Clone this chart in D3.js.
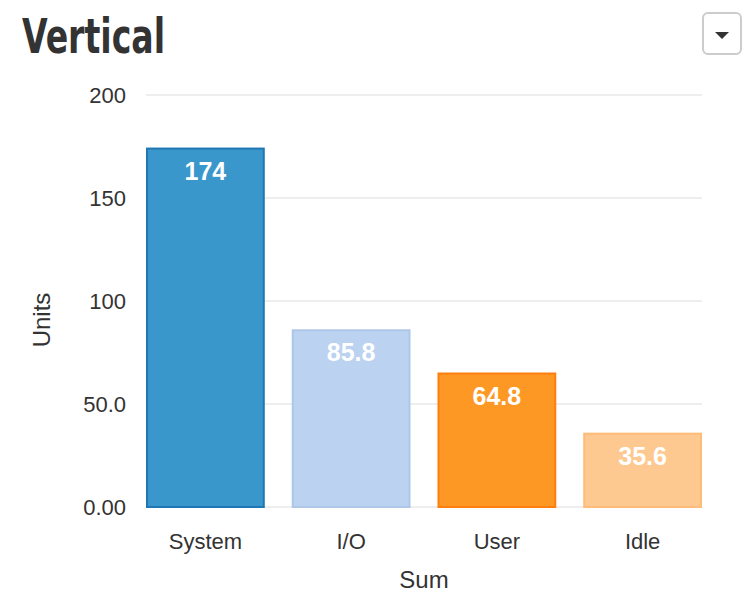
<!DOCTYPE html>
<html>
<head>
<meta charset="utf-8">
<script src="https://cdn.jsdelivr.net/npm/d3@7"></script>
<style>
  body { margin: 0; background: #fff; }
  svg { display: block; font-family: "Liberation Sans", Arial, Helvetica, sans-serif; }
</style>
</head>
<body>
<div id="chart"></div>
<script>
const categories = ["System", "I/O", "User", "Idle"];
const values = [174, 85.8, 64.8, 35.6];
const yTicks = [0, 50, 100, 150, 200];
const fills = ["#2e91c8", "#b7d0ef", "#fe9218", "#fec68a"];
const strokes = ["#1f77b4", "#aec7e8", "#ff7f0e", "#ffbb78"];

const width = 752, height = 608;
const margin = {top: 95, right: 50, bottom: 101, left: 146};

const svg = d3.select("#chart").append("svg")
    .attr("width", width)
    .attr("height", height);

// title
svg.append("text")
    .attr("x", 22)
    .attr("y", 53)
    .attr("fill", "#333")
    .style("font-family", "'Liberation Sans Narrow', 'DejaVu Sans Condensed', 'Liberation Sans', sans-serif")
    .style("font-weight", "bold")
    .style("font-size", "48px")
    .attr("textLength", 143)
    .attr("lengthAdjust", "spacingAndGlyphs")
    .text("Vertical");

// dropdown button
let btn = svg.append("g").attr("transform", "translate(703,13)");
btn.append("rect")
    .attr("width", 38).attr("height", 41)
    .attr("rx", 5)
    .attr("fill", "#fff")
    .attr("stroke", "#ccc")
    .attr("stroke-width", 2);
btn.append("path")
    .attr("d", "M12,19 L26,19 L19,26 Z")
    .attr("fill", "#333");

let x = d3.scaleBand()
    .domain(categories)
    .range([margin.left, width - margin.right])
    .paddingInner(0.185)
    .paddingOuter(0);

let y = d3.scaleLinear()
    .domain([0, 200])
    .range([height - margin.bottom, margin.top]);

let fill = d3.scaleOrdinal().domain(categories).range(fills);
let stroke = d3.scaleOrdinal().domain(categories).range(strokes);

// grid
svg.append("g")
    .selectAll("line")
    .data(yTicks)
    .enter().append("line")
    .attr("x1", margin.left)
    .attr("x2", width - margin.right)
    .attr("y1", d => y(d))
    .attr("y2", d => y(d))
    .attr("stroke", "#eee")
    .attr("stroke-width", 2);

// y axis
let yAxis = svg.append("g")
    .attr("transform", "translate(" + (margin.left - 20) + ",0)")
    .call(d3.axisLeft(y).tickValues(yTicks).tickFormat(d3.format(".3r")).tickSize(0).tickPadding(0));
yAxis.select(".domain").remove();
yAxis.selectAll("text")
    .attr("fill", "#333")
    .style("font-size", "22px");

// x axis
let xAxis = svg.append("g")
    .attr("transform", "translate(0," + (height - margin.bottom) + ")")
    .call(d3.axisBottom(x).tickSize(0).tickPadding(26));
xAxis.select(".domain").remove();
xAxis.selectAll("text")
    .attr("fill", "#333")
    .style("font-size", "22px");

// bars
let data = categories.map((c, i) => ({label: c, value: values[i]}));
svg.append("g").selectAll("rect")
    .data(data)
    .enter().append("rect")
    .attr("x", d => x(d.label) + 1)
    .attr("width", x.bandwidth() - 2)
    .attr("y", d => y(d.value))
    .attr("height", d => y(0) - y(d.value))
    .attr("fill", d => fill(d.label))
    .attr("fill-opacity", 0.95)
    .attr("stroke", d => stroke(d.label))
    .attr("stroke-width", 2);

// value labels
svg.append("g").selectAll("text")
    .data(data)
    .enter().append("text")
    .attr("x", d => x(d.label) + x.bandwidth() / 2)
    .attr("y", d => y(d.value) + 31)
    .attr("text-anchor", "middle")
    .attr("fill", "#fff")
    .style("font-weight", "bold")
    .style("font-size", "25px")
    .text(d => d3.format(".3r")(d.value));

// axis titles
svg.append("text")
    .attr("x", (margin.left + width - margin.right) / 2)
    .attr("y", 588)
    .attr("text-anchor", "middle")
    .attr("fill", "#333")
    .style("font-size", "24px")
    .text("Sum");

svg.append("text")
    .attr("transform", "translate(50,320) rotate(-90)")
    .attr("text-anchor", "middle")
    .attr("fill", "#333")
    .style("font-size", "24px")
    .text("Units");
</script>
</body>
</html>
